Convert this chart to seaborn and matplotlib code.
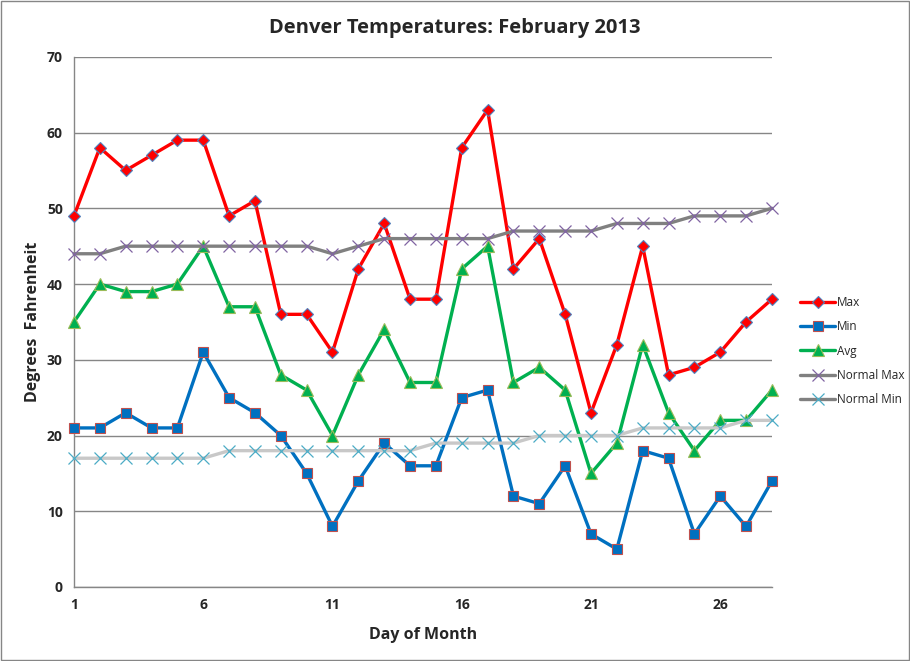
import numpy as np
import pandas as pd
import matplotlib
matplotlib.use("Agg")
import matplotlib.pyplot as plt
import seaborn as sns

# Denver daily temperatures, February 2013
days = list(range(1, 29))
max_temp = [49, 58, 55, 57, 59, 59, 49, 51, 36, 36, 31, 42, 48, 38,
            38, 58, 63, 42, 46, 36, 23, 32, 45, 28, 29, 31, 35, 38]
min_temp = [21, 21, 23, 21, 21, 31, 25, 23, 20, 15, 8, 14, 19, 16,
            16, 25, 26, 12, 11, 16, 7, 5, 18, 17, 7, 12, 8, 14]
avg_temp = [35, 40, 39, 39, 40, 45, 37, 37, 28, 26, 20, 28, 34, 27,
            27, 42, 45, 27, 29, 26, 15, 19, 32, 23, 18, 22, 22, 26]
normal_max = [44, 44, 45, 45, 45, 45, 45, 45, 45, 45, 44, 45, 46, 46,
              46, 46, 46, 47, 47, 47, 47, 48, 48, 48, 49, 49, 49, 50]
normal_min = [17, 17, 17, 17, 17, 17, 18, 18, 18, 18, 18, 18, 18, 18,
              19, 19, 19, 19, 20, 20, 20, 20, 21, 21, 21, 21, 22, 22]

x_ticks = [1, 6, 11, 16, 21, 26]
y_ticks = [0, 10, 20, 30, 40, 50, 60, 70]

sns.set_theme(style="white")
plt.rcParams['font.family'] = ['Open Sans', 'DejaVu Sans']

fig = plt.figure(figsize=(9.1, 6.61), dpi=100)
ax = fig.add_axes([0.0813, 0.112, 0.767, 0.802])

# (label, values, line colour, marker, marker face, marker edge, size)
series = [
    ("Max", max_temp, "#ff0000", "D", "#ff0000", "#4f81bd", 6.5),
    ("Min", min_temp, "#0070c0", "s", "#0070c0", "#c0504d", 7.5),
    ("Avg", avg_temp, "#00b050", "^", "#00b050", "#9bbb59", 8),
    ("Normal Max", normal_max, "#808080", "x", "#8064a2", "#8064a2", 8),
    ("Normal Min", normal_min, "#c8c8c8", "x", "#4bacc6", "#4bacc6", 8),
]

for label, vals, col, mk, face, edge, ms in series:
    df = pd.DataFrame({"day": days, "temp": vals})
    sns.lineplot(data=df, x="day", y="temp", ax=ax, color=col, lw=2.4,
                 marker=mk, markersize=ms, markerfacecolor=face,
                 markeredgecolor=edge, markeredgewidth=0.8 if mk != "x" else 0.9,
                 label=label, zorder=3, clip_on=False)

ax.set_xlim(1, 28)
ax.set_ylim(0, 70)
ax.set_xticks(x_ticks)
ax.set_yticks(y_ticks)
ax.tick_params(axis="both", labelsize=10, length=0, pad=8)
for t in ax.get_xticklabels() + ax.get_yticklabels():
    t.set_fontweight("bold")

ax.grid(axis="y", color="#868686", lw=1)
ax.grid(axis="x", visible=False)
for side in ["top", "right"]:
    ax.spines[side].set_visible(False)
for side in ["left", "bottom"]:
    ax.spines[side].set_color("#868686")
    ax.spines[side].set_linewidth(1)

ax.set_xlabel("Day of Month", fontsize=11.5, fontweight="bold", labelpad=11)
ax.set_ylabel("Degrees  Fahrenheit", fontsize=11.5, fontweight="bold", labelpad=4)
fig.suptitle("Denver Temperatures: February 2013", fontsize=14.5, fontweight="bold",
             x=0.5, y=0.973)

leg = ax.legend(loc="center left", bbox_to_anchor=(1.025, 0.445),
                frameon=False, fontsize=8.5, handlelength=3.0, labelspacing=0.95,
                handletextpad=0.15)
# legend shows the Normal Min line in dark grey like the other normal line
leg.legend_handles[-1].set_color("#808080")
leg.legend_handles[-1].set_markeredgecolor("#4bacc6")

# chart area border
fig.patches.append(plt.Rectangle((0.001, 0.001), 0.998, 0.998, transform=fig.transFigure,
                                 fill=False, edgecolor="#868686", lw=1))

fig.savefig("out.png", dpi=100)
